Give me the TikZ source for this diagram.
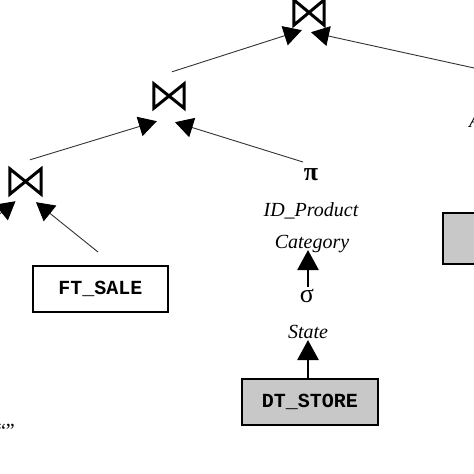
\documentclass[tikz,border=0pt]{standalone}
\usepackage{fontspec}
\setmainfont{Liberation Serif}
\newfontfamily\monob{Liberation Mono}
\usetikzlibrary{arrows.meta}
\definecolor{boxgray}{RGB}{200,200,200}
\definecolor{edgegray}{RGB}{50,50,50}
\begin{document}
\begin{tikzpicture}[x=1pt,y=-1pt,
  joinnode/.style={minimum width=30pt, minimum height=25pt, inner sep=0pt, draw=none},
  bowtie/.style={line width=3pt, line join=miter, miter limit=3},
  edge/.style={line width=0.9pt, draw=edgegray, -{Triangle[length=18pt,width=20pt,fill=black,color=black]}},
  thickedge/.style={line width=2.6pt, -{Triangle[length=20pt,width=21pt]}},
  relbox/.style={draw, line width=2pt, inner sep=0pt, minimum height=46pt,
    font=\monob\bfseries\fontsize{20}{20}\selectfont},
  lbl/.style={font=\itshape\fontsize{20}{24}\selectfont, inner sep=0pt, anchor=base},
  greek/.style={font=\fontsize{26}{26}\selectfont, inner sep=0pt}]
\useasboundingbox (0,0) rectangle (474,474);
\clip (0,0) rectangle (474,474);

% join operators
\node[joinnode] (jA) at (309,12.5) {};
\node[joinnode, minimum height=24pt] (jB) at (169,96) {};
\node[joinnode, minimum width=31pt] (jC) at (25.5,181.5) {};
\foreach \j in {jA,jB,jC}
  \draw[bowtie] (\j.north west) -- (\j.south west) -- (\j.north east) -- (\j.south east) -- cycle;

% relations
\node[relbox, minimum width=135pt] (ft) at (100.5,289) {FT\_SALE};
\node[relbox, minimum width=136pt, fill=boxgray] (dt) at (310,402) {DT\_STORE};
\node[relbox, minimum width=80pt, minimum height=51pt, fill=boxgray] (rbox) at (483,238.5) {};

% projection / selection
\node[greek, font=\bfseries\fontsize{26}{26}\selectfont] (pi) at (311,175) {π};
\node[lbl] (idp) at (311,216) {ID\_Product};
\node[lbl] (cat) at (312,248) {Category};
\node[greek] (sigma) at (307,296) {σ};
\node[lbl] (state) at (308,338) {State};

% cut-off texts at the edges
\node[lbl, anchor=base west] (atext) at (469,127) {A};
\node[lbl, font=\fontsize{20}{24}\selectfont, anchor=base east] (quote) at (15,437) {“”};

% off-page ends
\coordinate (rOff) at (480,69.3);
\coordinate (lOff) at (-40,246);

% connectors
\draw[edge] ([shift={(3,-12)}]jB.north) -- ([shift={(8,5)}]jA.south west);
\draw[edge] (rOff) -- ([shift={(2,7)}]jA.south);
\draw[edge] ([shift={(4.5,-9)}]jC.north) -- ([shift={(3,13)}]jB.south west);
\draw[edge] ([shift={(-8,-13)}]pi.center) -- ([shift={(6,14)}]jB.south);
\draw[edge] ([shift={(-2.5,-13)}]ft.north) -- ([shift={(10.5,8)}]jC.south);
\draw[edge] (lOff) -- ([shift={(-10,7)}]jC.south);
\draw[thickedge] ([shift={(1,-2)}]sigma.north) -- ([shift={(-4,2)}]cat.base);
\draw[thickedge] ([xshift=-2pt]dt.north) -- ([shift={(0,2)}]state.base);
\end{tikzpicture}
\end{document}
